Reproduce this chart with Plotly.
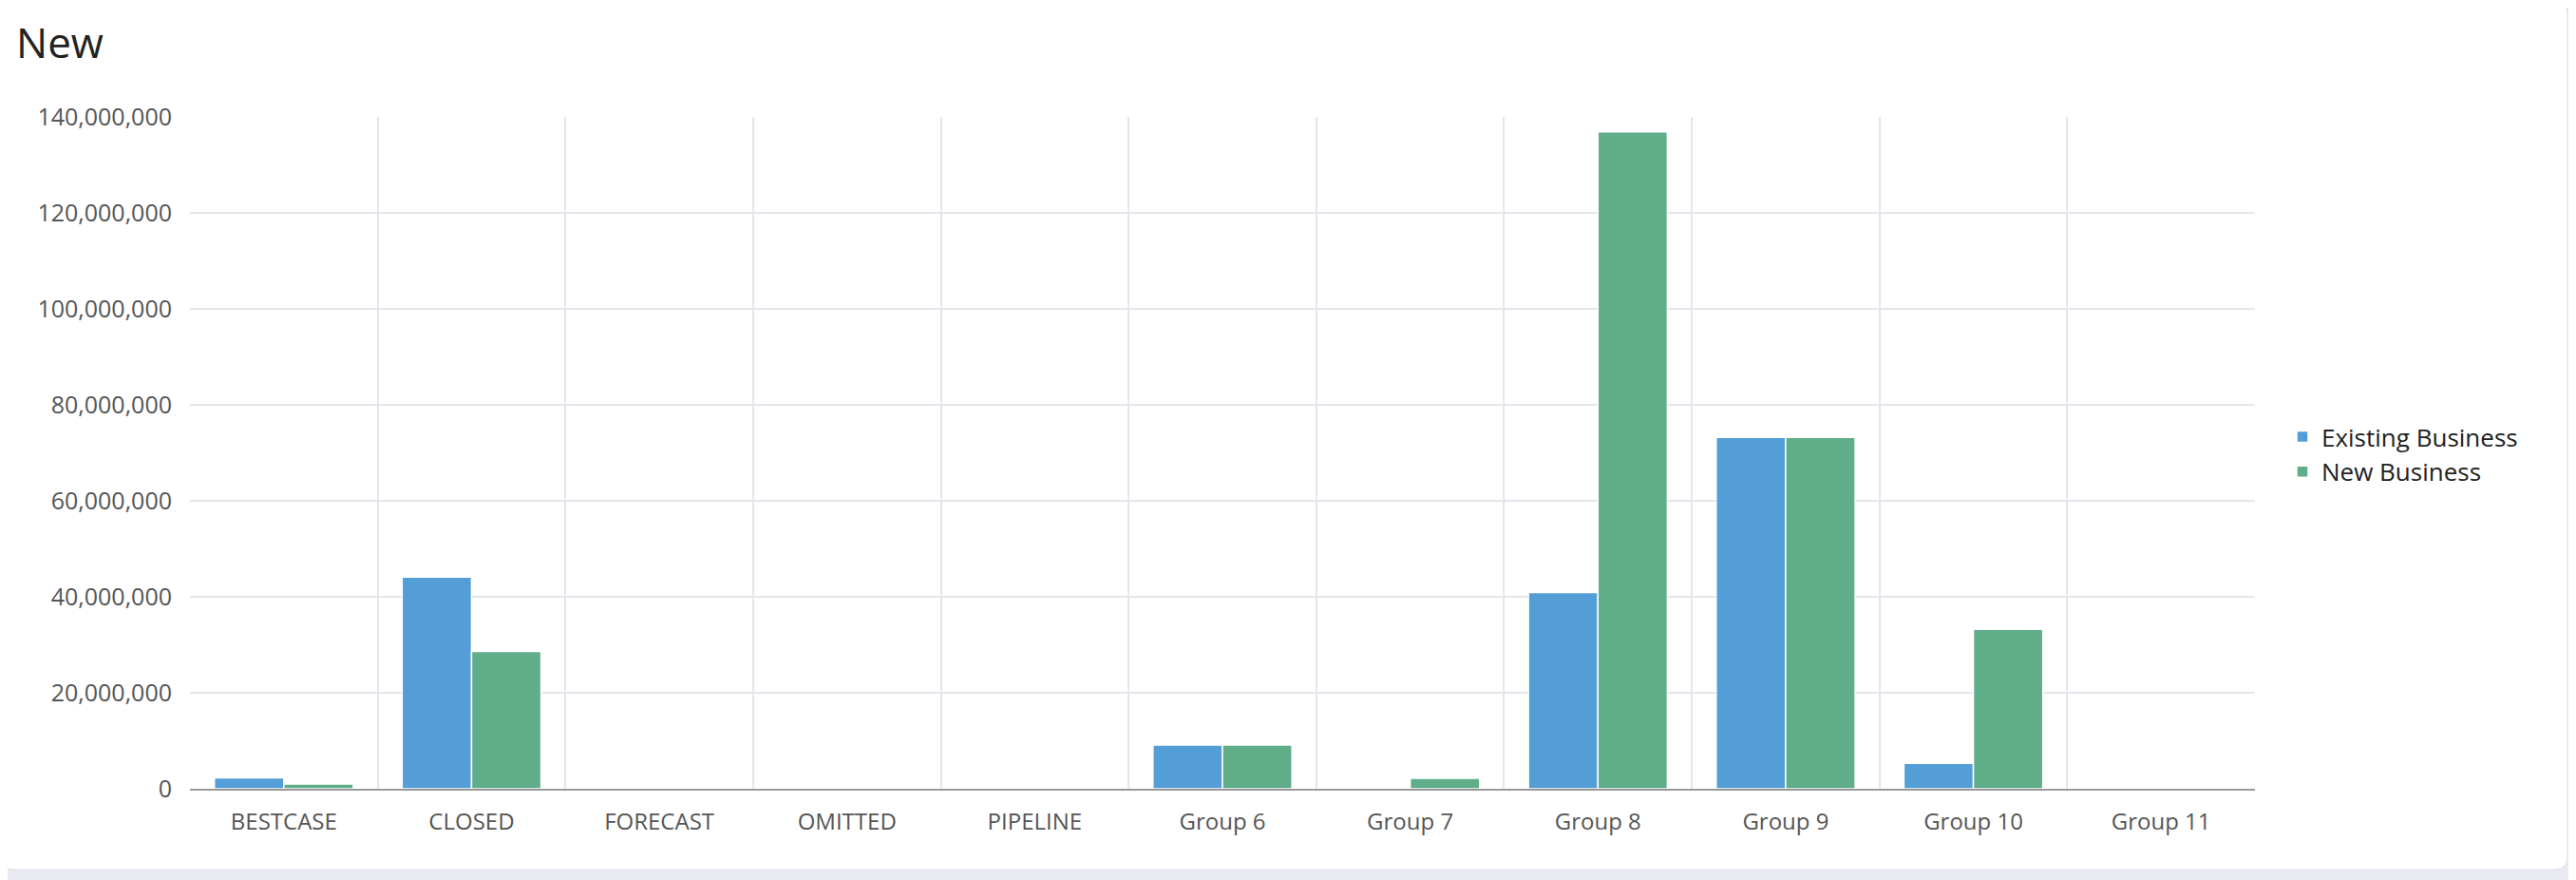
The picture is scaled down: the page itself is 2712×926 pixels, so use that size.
import plotly.graph_objects as go

# values
categories = ["BESTCASE", "CLOSED", "FORECAST", "OMITTED", "PIPELINE",
              "Group 6", "Group 7", "Group 8", "Group 9", "Group 10", "Group 11"]
existing_business = [2.3e6, 44.1e6, 0, 0, 0, 9.1e6, 0, 40.9e6, 73.2e6, 5.3e6, 0]
new_business = [1.0e6, 28.6e6, 0, 0, 0, 9.1e6, 2.2e6, 136.9e6, 73.2e6, 33.2e6, 0]
y_ticks = [0, 20e6, 40e6, 60e6, 80e6, 100e6, 120e6, 140e6]

# page pixels, minus the 8px body margin the page adds around the figure
W, H = 2712, 926
OFF = 8
L, T = 200 - OFF, 123 - OFF
R, B = W - (2374 - OFF), H - (830 - OFF)
pw, ph = W - L - R, H - T - B


def px(x):
    return (x - OFF - L) / pw


def py(y):
    return (H - B - (y - OFF)) / ph


font = "Open Sans"

fig = go.Figure()
fig.add_trace(go.Bar(
    x=categories, y=existing_business, name="Existing Business",
    marker=dict(color="#539ed6", line=dict(color="white", width=1.5)),
))
fig.add_trace(go.Bar(
    x=categories, y=new_business, name="New Business",
    marker=dict(color="#5fad89", line=dict(color="white", width=1.5)),
))
# invisible numeric axis, only used to draw the vertical lines between categories
fig.add_trace(go.Scatter(x=[0], y=[0], xaxis="x2", mode="markers",
                         marker=dict(opacity=0), showlegend=False, hoverinfo="skip"))

# white card with rounded corners over the grey page
x0, y0, x1, y1, r = 0, 0, 2703, 915, 14
card = (f"M {px(x0 + r)},{py(y0)} L {px(x1 - r)},{py(y0)} "
        f"Q {px(x1)},{py(y0)} {px(x1)},{py(y0 + r)} "
        f"L {px(x1)},{py(y1 - r)} Q {px(x1)},{py(y1)} {px(x1 - r)},{py(y1)} "
        f"L {px(x0 + r)},{py(y1)} Q {px(x0)},{py(y1)} {px(x0)},{py(y1 - r)} "
        f"L {px(x0)},{py(y0 + r)} Q {px(x0)},{py(y0)} {px(x0 + r)},{py(y0)} Z")

fig.update_layout(
    width=W, height=H,
    margin=dict(l=L, r=R, t=T, b=B),
    paper_bgcolor="#e9eaf1",
    plot_bgcolor="rgba(0,0,0,0)",
    font=dict(family=font, color="#555555", size=24),
    title=dict(text="New", x=(17 - OFF) / W, xref="container", xanchor="left",
               y=1 - (46 - OFF) / H, yref="container", yanchor="middle",
               font=dict(size=44, color="#222222", family=font)),
    barmode="group", bargap=0.26, bargroupgap=0.0,
    shapes=[dict(type="path", path=card, xref="paper", yref="paper",
                 fillcolor="white", line=dict(color="#dfe0e6", width=1), layer="below")],
    xaxis=dict(showgrid=False, showline=True, linecolor="#9a9a9a", linewidth=2,
               ticks="", ticklabelstandoff=12, tickfont=dict(size=24, color="#555555")),
    xaxis2=dict(overlaying="x", range=[-0.5, len(categories) - 0.5],
                tickvals=[i + 0.5 for i in range(len(categories) - 1)],
                showticklabels=False, showgrid=True, gridcolor="#e4e6ec", gridwidth=1.5,
                zeroline=False, showline=False),
    yaxis=dict(range=[0, 140e6], tickvals=y_ticks, tickformat=",",
               showgrid=True, gridcolor="#e4e6ec", gridwidth=2, zeroline=False,
               ticks="", ticklabelstandoff=18, tickfont=dict(size=25, color="#555555")),
    legend=dict(x=px(2404), y=py(478), xanchor="left", yanchor="middle",
                font=dict(size=26, color="#222222", family=font),
                bgcolor="rgba(0,0,0,0)", itemclick=False),
)

fig.write_html("out.html")
